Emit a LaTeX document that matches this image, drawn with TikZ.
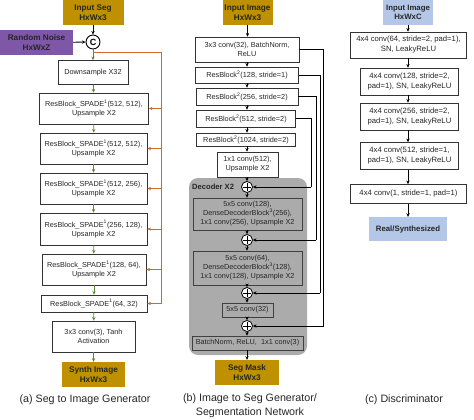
\documentclass[tikz,border=0pt]{standalone}
\usepackage{fontspec}
\setmainfont{Liberation Sans}
\usetikzlibrary{arrows.meta}
\definecolor{gold}{HTML}{BF9000}
\definecolor{purp}{HTML}{7E57A8}
\definecolor{lblue}{HTML}{B4C7E7}
\definecolor{grn}{HTML}{5B8A2E}
\definecolor{orng}{HTML}{CC6A2A}
\definecolor{gbg}{HTML}{ABABAB}
\definecolor{txt}{HTML}{262626}
\begin{document}
\begin{tikzpicture}[x=1pt,y=-1pt,
  box/.style={draw=black!80, line width=0.8pt, fill=white, align=center, inner sep=0pt, text=txt, font=\fontsize{7.3}{9}\selectfont},
  gbox/.style={box, fill=gbg, draw=black!75},
  goldbox/.style={fill=gold, align=center, inner sep=0pt, text=txt, font=\bfseries\fontsize{8.2}{9.8}\selectfont},
  bluebox/.style={fill=lblue, align=center, inner sep=0pt, text=txt, font=\bfseries\fontsize{7.8}{9.6}\selectfont},
  pluscirc/.style={circle, draw=black, line width=0.8pt, fill=white, minimum size=11pt, inner sep=0pt,
    path picture={\draw[line width=0.8pt] ([yshift=-1.5pt]path picture bounding box.north) -- ([yshift=1.5pt]path picture bounding box.south) ([xshift=1.5pt]path picture bounding box.west) -- ([xshift=-1.5pt]path picture bounding box.east);}},
  arr/.style={-{Stealth[length=3.6pt,width=3.4pt]}, line width=0.8pt, black},
  garr/.style={-{Stealth[length=3.6pt,width=3.4pt]}, line width=0.8pt, grn},
  oline/.style={line width=0.9pt, orng},
  oarr/.style={-{Stealth[length=3.6pt,width=3.4pt]}, line width=0.9pt, orng},
  skip/.style={line width=0.8pt, black},
  cbox/.style={box, font=\fontsize{7.7}{10}\selectfont},
  captext/.style={align=center, text=txt, font=\fontsize{10.7}{13.8}\selectfont}
]
\useasboundingbox (0,0) rectangle (474,420);

% ---------------- (a) ----------------
\node[goldbox, minimum width=61pt, minimum height=25pt] (inseg) at (93,12.5) {Input Seg\\HxWx3};
\node[goldbox, fill=purp, minimum width=73pt, minimum height=25pt] (noise) at (36.5,42.5) {Random Noise\\HxWxZ};
\node[circle, draw=black, line width=0.9pt, fill=white, minimum size=14pt, inner sep=0pt, font=\bfseries\fontsize{9}{9}\selectfont] (cc) at (93,42) {C};
\node[box, minimum width=70pt, minimum height=24pt] (down) at (93,72.5) {Downsample X32};
\node[box, minimum width=109pt, minimum height=31pt] (rb1) at (94,108.5) {ResBlock\_SPADE\textsuperscript{1}(512, 512),\\Upsample X2};
\node[box, minimum width=107pt, minimum height=31pt] (rb2) at (93.5,148.5) {ResBlock\_SPADE\textsuperscript{1}(512, 512),\\Upsample X2};
\node[box, minimum width=107pt, minimum height=31pt] (rb3) at (93.5,188.5) {ResBlock\_SPADE\textsuperscript{1}(512, 256),\\Upsample X2};
\node[box, minimum width=107pt, minimum height=32pt] (rb4) at (93.5,229) {ResBlock\_SPADE\textsuperscript{1}(256, 128),\\Upsample X2};
\node[box, minimum width=104pt, minimum height=31pt] (rb5) at (94,269.5) {ResBlock\_SPADE\textsuperscript{1}(128, 64),\\Upsample X2};
\node[box, minimum width=106pt, minimum height=17pt] (rb6) at (94,303.5) {ResBlock\_SPADE\textsuperscript{1}(64, 32)};
\node[box, minimum width=83pt, minimum height=31pt] (conv) at (93.5,336.5) {3x3 conv(3), Tanh\\Activation};
\node[goldbox, minimum width=63pt, minimum height=25pt] (synth) at (93.5,374.5) {Synth Image\\HxWx3};
\node[captext] (capa) at (85,400) {(a) Seg to Image Generator};

\draw[arr] (inseg) -- (cc);
\draw[arr] (noise) -- (cc);
\draw[garr] (cc) -- (down);
\draw[garr] (down) -- (rb1);
\draw[garr] (rb1) -- (rb2);
\draw[garr] (rb2) -- (rb3);
\draw[garr] (rb3) -- (rb4);
\draw[garr] (rb4) -- (rb5);
\draw[garr] (rb5) -- (rb6);
\draw[garr] (rb6) -- (conv);
\draw[garr] (conv) -- (synth);

\coordinate (o0) at (93,52);
\coordinate (o1) at (161,52);
\coordinate (o2) at (161,304);
\draw[oline] (o0) -- (o1) -- (o2);
\foreach \b in {rb1,rb2,rb3,rb4,rb5,rb6}{
  \draw[oarr] (\b.east -| o1) -- (\b.east);
}

% ---------------- (b) ----------------
\node[goldbox, minimum width=50pt, minimum height=25pt] (inimg) at (247.5,12.5) {Input Image\\HxWx3};
\node[box, minimum width=104pt, minimum height=25pt] (c1) at (247,49.5) {3x3 conv(32), BatchNorm,\\ReLU};
\node[box, minimum width=103pt, minimum height=16pt] (r1) at (247,75) {ResBlock\textsuperscript{2}(128, stride=1)};
\node[box, minimum width=102pt, minimum height=17pt] (r2) at (247,96.5) {ResBlock\textsuperscript{2}(256, stride=2)};
\node[box, minimum width=99pt, minimum height=17pt] (r3) at (246,118.5) {ResBlock\textsuperscript{2}(512, stride=2)};
\node[box, minimum width=99pt, minimum height=13pt] (r4) at (246,139.5) {ResBlock\textsuperscript{2}(1024, stride=2)};
\node[box, minimum width=61pt, minimum height=25pt] (up) at (247.5,164.5) {1x1 conv(512),\\Upsample X2};

\fill[gbg, rounded corners=9pt] (189,178) rectangle (307,355);
\node[anchor=west, text=txt, font=\bfseries\fontsize{7.6}{9}\selectfont, inner sep=0pt] (declab) at (192,187) {Decoder X2};

\node[pluscirc] (p1) at (247,187) {};
\node[gbox, minimum width=109pt, minimum height=32pt] (d1) at (247.5,214) {5x5 conv(128),\\DenseDecoderBlock\textsuperscript{3}(256),\\1x1 conv(256), Upsample X2};
\node[pluscirc] (p2) at (247,240) {};
\node[gbox, minimum width=109pt, minimum height=34pt] (d2) at (247.5,268) {5x5 conv(64),\\DenseDecoderBlock\textsuperscript{3}(128),\\1x1 conv(128), Upsample X2};
\node[pluscirc] (p3) at (247,293) {};
\node[gbox, minimum width=51pt, minimum height=14pt] (d3) at (247.5,310) {5x5 conv(32)};
\node[pluscirc] (p4) at (247,326) {};
\node[gbox, minimum width=111pt, minimum height=14pt] (d4) at (247.5,343) {BatchNorm, ReLU, \ 1x1 conv(3)};
\node[goldbox, minimum width=64pt, minimum height=25pt] (seg) at (247,372.5) {Seg Mask\\HxWx3};
\node[captext] (capb) at (250,406) {(b) Image to Seg Generator/\\Segmentation Network};

\draw[arr] (inimg) -- (inimg |- c1.north);
\draw[arr] (c1) -- (c1 |- r1.north);
\draw[arr] (r1.south -| p1) -- (r2.north -| p1);
\draw[arr] (r2.south -| p1) -- (r3.north -| p1);
\draw[arr] (r3.south -| p1) -- (r4.north -| p1);
\draw[arr] (r4.south -| p1) -- (up.north -| p1);
\draw[arr] (up.south -| p1) -- (p1);
\draw[arr] (p1) -- (d1.north -| p1);
\draw[arr] (d1.south -| p1) -- (p2);
\draw[arr] (p2) -- (d2.north -| p1);
\draw[arr] (d2.south -| p1) -- (p3);
\draw[arr] (p3) -- (d3.north -| p1);
\draw[arr] (d3.south -| p1) -- (p4);
\draw[arr] (p4) -- (d4.north -| p1);
\draw[arr] (d4.south -| p1) -- (seg);

\coordinate (k1) at (311,0);
\coordinate (k2) at (316,0);
\coordinate (k3) at (320,0);
\coordinate (k4) at (323.5,0);
\draw[skip] (r3.east) -- (r3.east -| k1) -- (k1 |- p1);
\draw[arr] (k1 |- p1) -- (p1.east);
\draw[skip] (r2.east) -- (r2.east -| k2) -- (k2 |- p2);
\draw[arr] (k2 |- p2) -- (p2.east);
\draw[skip] (r1.east) -- (r1.east -| k3) -- (k3 |- p3);
\draw[arr] (k3 |- p3) -- (p3.east);
\draw[skip] (c1.east) -- (c1.east -| k4) -- (k4 |- p4);
\draw[arr] (k4 |- p4) -- (p4.east);

% ---------------- (c) ----------------
\node[bluebox, minimum width=50pt, minimum height=25pt] (dimg) at (408,12.5) {Input Image\\HxWxC};
\node[cbox, minimum width=116pt, minimum height=26pt] (q1) at (408.5,45) {4x4 conv(64, stride=2, pad=1),\\SN, LeakyReLU};
\node[cbox, minimum width=98pt, minimum height=27pt] (q2) at (409.5,81.5) {4x4 conv(128, stride=2,\\pad=1), SN, LeakyReLU};
\node[cbox, minimum width=98pt, minimum height=27pt] (q3) at (409.5,116.5) {4x4 conv(256, stride=2,\\pad=1), SN, LeakyReLU};
\node[cbox, minimum width=98pt, minimum height=27pt] (q4) at (409.5,156) {4x4 conv(512, stride=1,\\pad=1), SN, LeakyReLU};
\node[cbox, minimum width=116pt, minimum height=19pt] (q5) at (408.5,194) {4x4 conv(1, stride=1, pad=1)};
\node[bluebox, minimum width=78pt, minimum height=24pt] (real) at (408,229) {Real/Synthesized};
\node[captext] (capc) at (404,400) {(c) Discriminator};

\draw[arr] (dimg) -- (dimg |- q1.north);
\draw[arr] (q1.south -| dimg) -- (q2.north -| dimg);
\draw[arr] (q2.south -| dimg) -- (q3.north -| dimg);
\draw[arr] (q3.south -| dimg) -- (q4.north -| dimg);
\draw[arr] (q4.south -| dimg) -- (q5.north -| dimg);
\draw[arr] (q5.south -| dimg) -- (real.north -| dimg);
\end{tikzpicture}
\end{document}
